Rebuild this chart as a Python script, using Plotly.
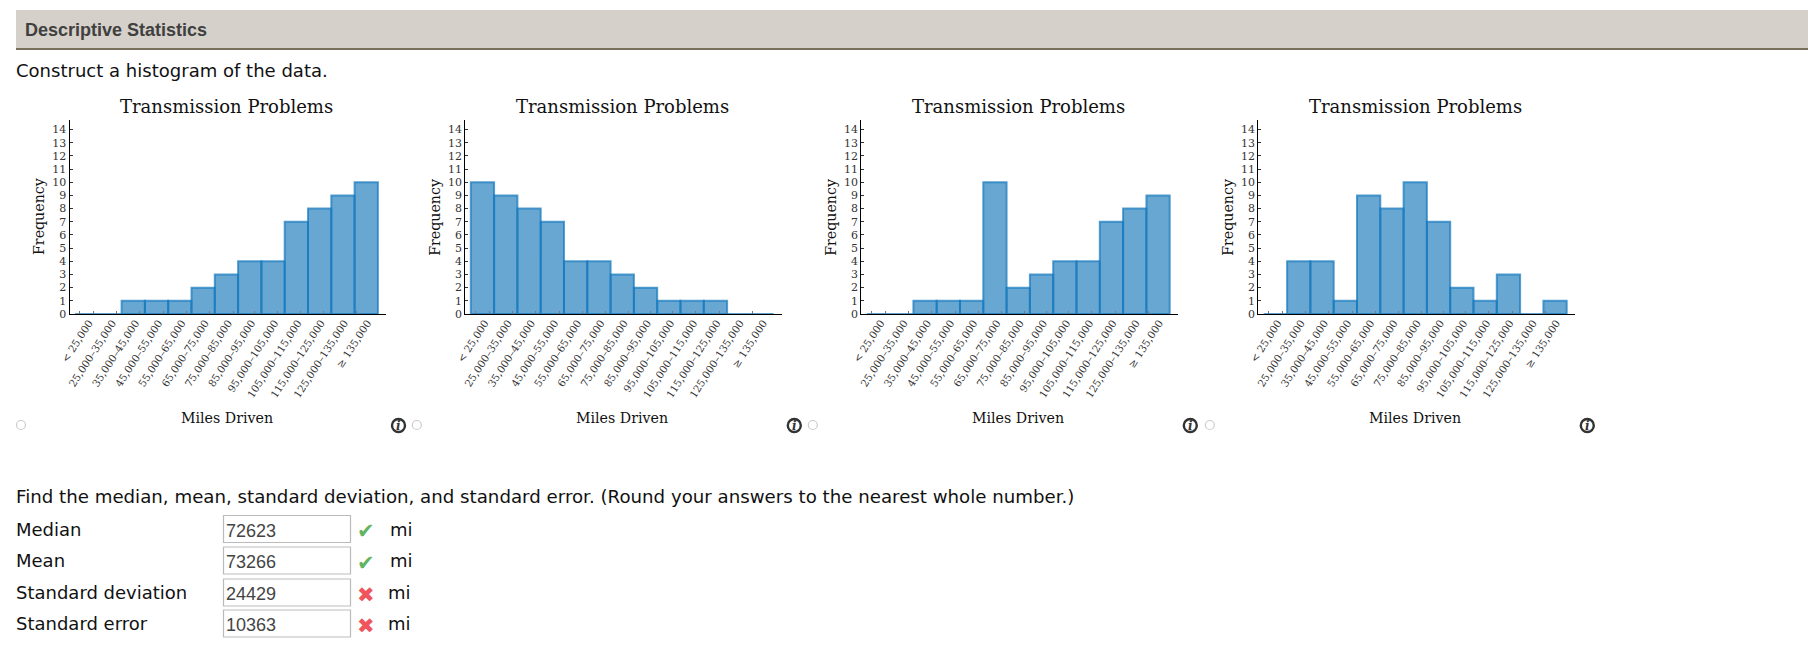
import plotly.graph_objects as go

W, H = 1808, 658

BIN_LABELS = ["< 25,000", "25,000–35,000", "35,000–45,000", "45,000–55,000", "55,000–65,000",
              "65,000–75,000", "75,000–85,000", "85,000–95,000", "95,000–105,000",
              "105,000–115,000", "115,000–125,000", "125,000–135,000", "≥ 135,000"]
SERIES_A = [0, 0, 1, 1, 1, 2, 3, 4, 4, 7, 8, 9, 10]
SERIES_B = [10, 9, 8, 7, 4, 4, 3, 2, 1, 1, 1, 0, 0]
SERIES_C = [0, 0, 1, 1, 1, 10, 2, 3, 4, 4, 7, 8, 9]
SERIES_D = [0, 4, 4, 1, 9, 8, 10, 7, 2, 1, 3, 0, 1]
ALL_SERIES = [SERIES_A, SERIES_B, SERIES_C, SERIES_D]
CHART_TITLE = "Transmission Problems"
X_TITLE = "Miles Driven"
Y_TITLE = "Frequency"
Y_TICKS = list(range(0, 15))
ROW_NAMES = ["Median", "Mean", "Standard deviation", "Standard error"]
ROW_VALUES = ["72623", "73266", "24429", "10363"]
ROW_OK = [True, True, False, False]

AXIS_LEFT = [69.5, 465.3, 861.3, 1258.3]
AXIS_W = 316.5
BAR_W = 23.3
BAR_START = 5.5
TICK_PX = [10, 24, 47, 70, 94, 117, 140, 163.5, 185, 207.5, 230.5, 253.8, 287]
LABEL_PX = [19.5 + 23.2 * k for k in range(13)]
Y_ZERO, Y_TOP = 314.0, 120.0
UNIT = 13.18

SERIF = "DejaVu Serif"
SANS = "DejaVu Sans"


def px(x):
    return x / W


def py(y):
    return 1 - y / H


def val(rel):
    return (rel - BAR_START) / BAR_W - 0.5


fig = go.Figure()
shapes, ann = [], []


def text(x, y, s, size, family=SANS, color="#111", xa="left", angle=0, **kw):
    ann.append(dict(x=px(x), y=py(y), xref="paper", yref="paper", text=s, showarrow=False,
                    xanchor=xa, yanchor="middle", textangle=angle, borderpad=0,
                    font=dict(size=size, family=family, color=color), **kw))


def rect(x0, y0, x1, y1, fill, line=None, lw=0):
    shapes.append(dict(type="rect", xref="paper", yref="paper", x0=px(x0), x1=px(x1),
                       y0=py(y1), y1=py(y0), fillcolor=fill, layer="below",
                       line=dict(color=line or fill, width=lw)))


def circle(cx, cy, r, fill, line, lw):
    shapes.append(dict(type="circle", xref="paper", yref="paper", x0=px(cx - r), x1=px(cx + r),
                       y0=py(cy + r), y1=py(cy - r), fillcolor=fill, layer="above",
                       line=dict(color=line, width=lw)))


layout_axes = {}
for c, (vals, left) in enumerate(zip(ALL_SERIES, AXIS_LEFT)):
    xa_tick = f"x{2 * c + 1}" if c else "x"
    xa_lab = f"x{2 * c + 2}"
    ya = f"y{c + 1}" if c else "y"
    dom = [px(left), px(left + AXIS_W)]
    rng = [val(0), val(AXIS_W)]
    fig.add_trace(go.Bar(x=list(range(13)), y=vals, width=1, xaxis=xa_tick, yaxis=ya, showlegend=False,
                         marker=dict(color="rgba(40,130,190,0.70)",
                                     line=dict(color="rgba(20,120,190,0.70)", width=2))))
    fig.add_trace(go.Scatter(x=[None], y=[None], xaxis=xa_lab, yaxis=ya, showlegend=False))
    layout_axes["xaxis" + (str(2 * c + 1) if c else "")] = dict(
        domain=dom, range=rng, anchor=ya, showgrid=False, zeroline=False, automargin=False,
        showline=True, linecolor="#000", linewidth=1, ticks="inside", ticklen=3, tickwidth=1,
        tickcolor="#777", tickmode="array", tickvals=[val(t) for t in TICK_PX],
        ticktext=[""] * 13, fixedrange=True)
    layout_axes[f"xaxis{2 * c + 2}"] = dict(
        domain=dom, range=rng, anchor=ya, overlaying=xa_tick, side="bottom", showgrid=False,
        zeroline=False, showline=False, ticks="", tickmode="array", automargin=False,
        tickvals=[val(t) for t in LABEL_PX], ticktext=BIN_LABELS, tickangle=-57,
        tickfont=dict(family=SERIF, size=10.3, color="#333"), fixedrange=True)
    layout_axes["yaxis" + (str(c + 1) if c else "")] = dict(
        domain=[py(Y_ZERO), py(Y_TOP)], range=[0, (Y_ZERO - Y_TOP) / UNIT], anchor=xa_tick,
        showgrid=False, zeroline=False, showline=True, linecolor="#000", linewidth=1,
        automargin=False, ticks="inside", ticklen=3, tickcolor="#333", tickmode="array",
        tickvals=Y_TICKS, ticktext=[str(v) for v in Y_TICKS],
        tickfont=dict(family=SERIF, size=11, color="#333"), fixedrange=True)
    text(left + 157, 106, CHART_TITLE, 18, SERIF, "#111", xa="center")
    text(left + 157, 417.5, X_TITLE, 14.2, SERIF, "#111", xa="center")
    text(left - 30.5, 217, Y_TITLE, 14.2, SERIF, "#111", xa="center", angle=-90)
    circle(left - 48.5, 425, 4.5, "#fff", "#ccc", 1.2)
    circle(left + 329, 425.5, 6.5, "#fff", "#333", 2.4)
    text(left + 329, 425.5, "<b><i>i</i></b>", 12, SERIF, "#333", xa="center")

rect(16, 10, W, 48, "#d5d0c9")
rect(16, 48, W, 50, "#7a6e5c")
text(24, 30, "<b>Descriptive Statistics</b>", 18, "Liberation Sans", "#404040")
text(15, 70, "Construct a histogram of the data.", 18.05)
text(15, 496.5, "Find the median, mean, standard deviation, and standard error. "
                "(Round your answers to the nearest whole number.)", 18.2)

ROW_Y = [529, 560.5, 592.5, 623.5]
for name, value, ok, y in zip(ROW_NAMES, ROW_VALUES, ROW_OK, ROW_Y):
    text(15, y, name, 18)
    rect(223.5, y - 13.5, 350.5, y + 13.5, "#fff", "#bbb", 1.2)
    text(225, y + 1.5, value, 18, "Liberation Sans", "#444")
    text(366, y + 2, "✔" if ok else "✖", 21, SANS, "#62b462" if ok else "#f0545c", xa="center")
    text(389 if ok else 387, y, "mi", 18)

fig.update_layout(width=W, height=H, margin=dict(l=0, r=0, t=0, b=0), autosize=False,
                  paper_bgcolor="#fff", plot_bgcolor="rgba(0,0,0,0)", barmode="overlay",
                  shapes=shapes, annotations=ann, showlegend=False, **layout_axes)
fig.write_html("out.html", post_script="document.body.style.margin='0';",
               config=dict(displayModeBar=False))
